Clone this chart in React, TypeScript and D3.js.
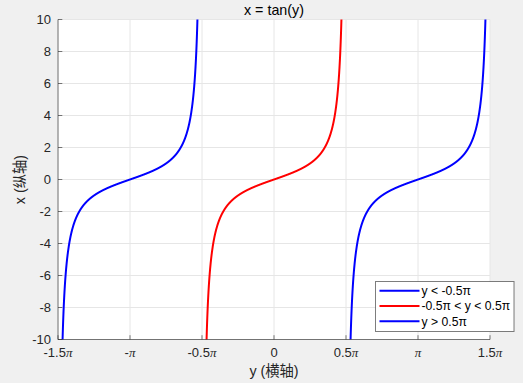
import React from "react";
import * as d3 from "d3";

const W = 523;
const H = 383;
const title = "x = tan(y)";
const xLabel = "y (横轴)";
const yLabel = "x (纵轴)";
// domain of plot (y in multiples of pi)
const xTickMultiples = [-1.5, -1, -0.5, 0, 0.5, 1, 1.5];
const xTickLabels = ["-1.5", "-", "-0.5", "0", "0.5", "", "1.5"];
const yTicks = [-10, -8, -6, -4, -2, 0, 2, 4, 6, 8, 10];
// segments: [start, end] in multiples of pi
const segStarts = [-1.5, -0.5, 0.5];
const segEnds = [-0.5, 0.5, 1.5];
const segColors = ["#0000ff", "#ff0000", "#0000ff"];
const segNames = ["y < -0.5π", "-0.5π < y < 0.5π", "y > 0.5π"];
const sampleCount = 2000;

const margin = { left: 58, right: 33, top: 19.5, bottom: 43.5 };

export default function App() {
  const x = d3
    .scaleLinear()
    .domain([-1.5 * Math.PI, 1.5 * Math.PI])
    .range([margin.left, W - margin.right]);
  const y = d3
    .scaleLinear()
    .domain([-10, 10])
    .range([H - margin.bottom, margin.top]);

  const line = d3
    .line<[number, number]>()
    .x((d) => x(d[0]))
    .y((d) => y(d[1]));

  const segments = segStarts.map((s, i) => {
    const a = s * Math.PI;
    const b = segEnds[i] * Math.PI;
    const pts: [number, number][] = [];
    for (let k = 1; k < sampleCount; k++) {
      const t = a + ((b - a) * k) / sampleCount;
      const v = Math.tan(t);
      if (v >= -10.5 && v <= 10.5) pts.push([t, Math.max(-10.5, Math.min(10.5, v))]);
    }
    return pts;
  });

  const x0 = margin.left;
  const x1 = W - margin.right;
  const y0 = H - margin.bottom;
  const y1 = margin.top;
  const font = "'Liberation Sans', Arial, Helvetica, sans-serif";
  const axisColor = "#262626";
  const gridColor = "#e6e6e6";
  const tickLen = 4.3;

  const legX = 375.5;
  const legY = 281.5;
  const legW = 138.5;
  const legH = 50;
  const rowYs = [290.7, 306, 321.3];

  return (
    <svg
      width={W}
      height={H}
      style={{ position: "absolute", left: 0, top: 0, background: "#f0f0f0" }}
      fontFamily={font}
    >
      <defs>
        <clipPath id="plotclip">
          <rect x={x0} y={y1} width={x1 - x0} height={y0 - y1} />
        </clipPath>
      </defs>
      <rect x={0} y={0} width={W} height={H} fill="#f0f0f0" />
      <rect x={x0} y={y1} width={x1 - x0} height={y0 - y1} fill="#ffffff" />
      {/* grid */}
      {xTickMultiples.map((m, i) => (
        <line
          key={"gx" + i}
          x1={x(m * Math.PI)}
          x2={x(m * Math.PI)}
          y1={y0}
          y2={y1}
          stroke={gridColor}
          strokeWidth={1}
        />
      ))}
      {yTicks.map((v, i) => (
        <line
          key={"gy" + i}
          x1={x0}
          x2={x1}
          y1={y(v)}
          y2={y(v)}
          stroke={gridColor}
          strokeWidth={1}
        />
      ))}
      {/* curves */}
      <g clipPath="url(#plotclip)">
        {segments.map((pts, i) => (
          <path
            key={"s" + i}
            d={line(pts) || ""}
            fill="none"
            stroke={segColors[i]}
            strokeWidth={2}
          />
        ))}
      </g>
      {/* axes */}
      <line x1={x0} x2={x1} y1={y0} y2={y0} stroke={axisColor} strokeOpacity={0.6} strokeWidth={1} />
      <line x1={x0} x2={x0} y1={y0} y2={y1} stroke={axisColor} strokeOpacity={0.6} strokeWidth={1} />
      {xTickMultiples.map((m, i) => (
        <line
          key={"tx" + i}
          x1={x(m * Math.PI)}
          x2={x(m * Math.PI)}
          y1={y0}
          y2={y0 - tickLen}
          stroke={axisColor}
          strokeOpacity={0.6}
        />
      ))}
      {yTicks.map((v, i) => (
        <line
          key={"ty" + i}
          x1={x0}
          x2={x0 + tickLen}
          y1={y(v)}
          y2={y(v)}
          stroke={axisColor}
          strokeOpacity={0.6}
        />
      ))}
      {/* x tick labels */}
      {xTickMultiples.map((m, i) => (
        <text
          key={"lx" + i}
          x={x(m * Math.PI)}
          y={357}
          textAnchor="middle"
          fontSize={13}
          fill={axisColor}
        >
          {xTickLabels[i]}
          {m !== 0 ? (
            <tspan fontFamily="'Liberation Serif', 'DejaVu Serif', serif" fontStyle="italic">
              π
            </tspan>
          ) : null}
        </text>
      ))}
      {/* y tick labels */}
      {yTicks.map((v, i) => (
        <text
          key={"ly" + i}
          x={51}
          y={y(v)}
          dy="0.36em"
          textAnchor="end"
          fontSize={13}
          fill={axisColor}
        >
          {v}
        </text>
      ))}
      {/* title */}
      <text x={(x0 + x1) / 2} y={15} textAnchor="middle" fontSize={14.3} fill="#000">
        {title}
      </text>
      {/* axis labels */}
      <text x={(x0 + x1) / 2} y={376} textAnchor="middle" fontSize={14.3} fill={axisColor}>
        {xLabel.split(/([横轴]+)/).map((p, i) =>
          /[横轴]/.test(p) ? (
            <tspan key={i} fontFamily="'Noto Sans CJK SC', sans-serif">
              {p}
            </tspan>
          ) : (
            <tspan key={i}>{p}</tspan>
          )
        )}
      </text>
      <text
        transform={`translate(25, ${(y0 + y1) / 2}) rotate(-90)`}
        textAnchor="middle"
        fontSize={14.3}
        fill={axisColor}
      >
        {yLabel.split(/([纵轴]+)/).map((p, i) =>
          /[纵轴]/.test(p) ? (
            <tspan key={i} fontFamily="'Noto Sans CJK SC', sans-serif">
              {p}
            </tspan>
          ) : (
            <tspan key={i}>{p}</tspan>
          )
        )}
      </text>
      {/* legend */}
      <rect x={legX} y={legY} width={legW} height={legH} fill="#ffffff" stroke="#262626" strokeOpacity={0.6} strokeWidth={1} />
      {segNames.map((n, i) => (
        <g key={"lg" + i}>
          <line x1={379.5} x2={419.5} y1={rowYs[i]} y2={rowYs[i]} stroke={segColors[i]} strokeWidth={2} />
          <text x={421.5} y={rowYs[i]} dy="0.36em" fontSize={12.2} fill="#000">
            {n}
          </text>
        </g>
      ))}
    </svg>
  );
}
